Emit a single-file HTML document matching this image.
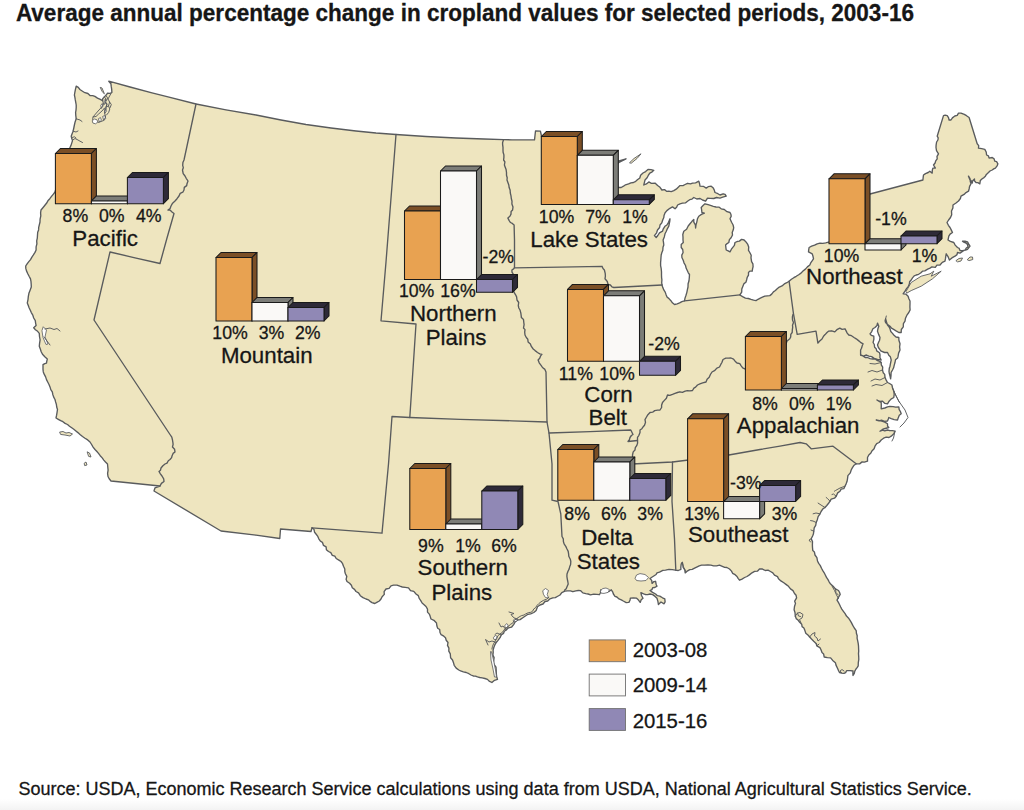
<!DOCTYPE html>
<html lang="en"><head><meta charset="utf-8"><title>Average annual percentage change in cropland values</title>
<style>html,body{margin:0;padding:0;background:#fff}svg{display:block}text{font-family:"Liberation Sans",Arial,Helvetica,sans-serif;fill:#161616;stroke:#161616;stroke-width:0.28px}</style></head><body>
<svg width="1024" height="810" viewBox="0 0 1024 810">
<defs><linearGradient id="bg" x1="0" y1="0" x2="0" y2="1"><stop offset="0" stop-color="#ffffff"/><stop offset="1" stop-color="#f3f3f3"/></linearGradient></defs>
<rect width="1024" height="810" fill="#ffffff"/><rect y="799" width="1024" height="11" fill="url(#bg)"/>
<text transform="translate(15.9,21.0) scale(1,1.07)" font-size="22.53" font-weight="bold">Average annual percentage change in cropland values for selected periods, 2003-16</text>
<g stroke="#595b5d" stroke-width="1.35" stroke-linejoin="round" stroke-linecap="round">
<polygon points="76.2,86.2 78.3,87.4 79.9,89.5 82.5,91.2 84.9,92.7 87.9,93.5 90.0,95.6 92.7,95.6 94.9,96.4 97.5,98.1 100.3,99.4 102.5,100.6 102.7,98.7 104.4,96.9 106.4,94.8 107.5,93.1 110.0,93.3 111.9,92.5 111.7,89.4 111.2,86.2 110.9,83.7 108.8,81.2 130.0,87.0 152.0,92.8 168.0,96.9 196.0,104.0 226.0,109.8 256.0,115.0 281.0,120.0 306.0,124.5 331.0,128.0 356.0,131.0 376.0,133.0 396.0,134.5 426.0,136.5 456.0,138.0 484.0,139.0 503.5,139.7 512.0,139.8 534.5,139.9 535.5,131.0 540.4,131.2 541.5,136.0 556.0,141.0 570.0,148.0 582.0,153.0 590.0,156.0 605.0,158.5 619.0,161.0 626.0,158.8 619.0,162.5 606.0,172.0 596.0,180.0 588.0,186.0 598.0,184.0 606.0,180.0 610.0,186.0 619.0,187.5 621.2,187.5 623.5,186.2 625.5,184.8 628.6,183.9 630.9,182.9 633.5,182.5 635.7,181.3 637.4,179.8 639.8,178.0 640.6,175.3 643.0,173.0 645.6,171.6 648.0,169.5 651.0,169.6 653.8,170.3 652.2,171.8 649.8,173.2 648.5,175.0 647.1,177.8 645.0,180.0 644.3,182.8 643.8,185.0 646.4,183.9 648.8,181.9 651.4,183.3 655.0,183.1 657.6,185.5 660.0,187.3 661.9,190.0 664.5,189.6 666.5,191.3 668.8,191.2 671.2,191.6 673.8,190.6 676.2,189.2 678.0,187.4 680.0,185.6 683.0,185.6 685.1,184.5 687.5,183.3 690.5,183.8 692.5,183.1 695.6,182.8 698.8,181.2 699.6,183.8 700.0,186.2 703.3,186.3 706.2,188.1 708.2,186.7 711.2,186.2 713.3,188.1 714.2,189.9 715.0,192.5 717.9,193.7 720.0,195.0 723.1,193.8 725.1,194.4 726.2,196.2 722.7,197.2 720.0,198.1 716.5,197.5 713.8,198.5 710.3,198.4 707.5,198.1 705.6,201.2 702.5,200.0 700.1,198.5 696.8,199.0 693.8,197.5 692.0,199.1 689.7,199.7 687.5,201.2 685.4,202.9 682.5,203.2 680.0,203.8 677.6,205.0 676.6,207.2 675.0,208.8 672.5,206.9 669.9,208.3 666.9,210.6 665.1,212.8 664.1,215.2 663.8,217.5 662.7,220.0 661.8,222.9 660.0,225.0 659.6,227.5 657.5,230.0 656.6,232.8 654.4,235.6 656.2,237.5 657.8,235.5 659.5,232.9 662.5,231.2 663.3,228.8 664.9,226.3 666.9,225.0 668.5,222.3 670.0,218.8 669.8,221.2 669.3,223.6 668.8,226.2 667.3,228.8 666.3,231.3 665.0,233.8 664.3,236.9 663.1,240.0 663.5,242.4 663.8,245.0 663.0,247.3 662.8,250.2 661.9,252.4 661.2,255.0 661.0,257.3 660.8,260.1 660.6,262.5 660.6,265.7 661.2,268.7 661.5,271.9 661.5,275.0 661.6,277.6 661.9,279.9 661.7,282.7 662.0,285.0 662.8,287.6 663.8,289.9 665.2,292.1 666.0,294.4 667.0,297.0 669.0,298.6 670.9,300.7 672.4,302.8 674.5,304.5 677.2,303.8 679.6,302.9 681.9,301.6 684.5,300.8 685.0,298.1 686.0,295.2 686.8,292.6 687.4,289.7 688.0,287.0 688.1,283.8 689.0,280.7 689.3,277.7 689.5,274.5 688.3,272.8 687.5,271.0 686.2,268.3 685.5,265.5 684.0,262.8 683.2,260.2 681.9,257.5 681.8,255.1 683.1,252.5 682.7,249.5 681.2,247.5 681.2,244.6 683.3,242.6 683.0,240.0 683.0,237.0 682.8,234.5 683.8,231.2 686.6,229.2 688.2,226.0 690.0,223.8 692.0,221.3 693.8,219.4 693.8,222.1 695.4,224.9 695.6,228.0 696.0,224.9 696.8,222.1 697.5,218.6 698.8,216.2 701.4,214.4 704.4,213.1 701.9,212.5 701.6,209.6 701.2,207.5 703.3,205.3 705.0,203.8 708.1,204.7 711.2,205.6 713.3,206.3 716.0,207.0 719.2,207.2 721.2,208.8 724.3,209.5 727.0,211.7 730.0,212.5 730.9,214.3 731.2,216.2 730.0,218.8 731.6,222.2 733.1,225.0 733.7,227.6 733.3,229.8 732.2,232.5 732.5,235.0 731.1,237.7 729.4,239.6 728.8,242.5 727.1,243.6 725.6,245.0 725.9,247.7 726.2,250.0 728.2,250.9 730.0,251.9 731.4,249.2 733.0,247.1 734.4,245.4 735.0,242.5 737.6,241.4 739.4,241.1 741.6,239.4 744.1,240.0 746.0,241.9 747.6,244.1 748.7,247.1 748.5,250.4 749.8,252.5 751.2,255.3 751.0,257.9 751.6,261.6 752.9,263.8 753.1,266.7 752.6,268.7 752.2,271.2 749.8,271.1 748.5,272.5 748.5,275.1 747.2,277.4 746.6,280.0 745.9,282.2 744.0,283.6 742.9,286.2 741.8,289.1 741.7,292.2 739.8,295.0 742.6,296.6 745.4,298.1 748.4,298.5 751.0,299.4 753.6,300.2 756.0,300.6 758.0,299.3 760.3,298.1 762.4,297.2 764.8,296.2 767.4,295.8 769.8,295.6 771.7,294.1 773.4,291.9 775.4,290.5 777.2,288.8 779.3,287.1 782.0,285.9 784.3,283.9 786.8,282.7 789.1,281.2 791.4,279.3 793.8,277.7 796.2,276.3 798.7,274.7 801.0,273.1 803.0,271.0 805.4,269.1 807.4,266.9 809.8,265.0 810.7,262.9 812.1,260.9 813.5,258.8 813.0,256.3 812.2,253.8 810.4,252.9 808.5,251.9 808.7,249.8 809.1,247.5 811.6,246.2 814.6,245.2 817.2,243.8 820.0,243.2 822.8,243.3 825.7,242.8 828.5,242.2 845.0,240.0 855.0,236.0 857.0,225.0 853.0,215.0 862.0,203.0 868.0,195.0 870.0,194.0 922.9,180.0 923.2,177.2 923.5,175.0 925.5,173.6 928.2,172.5 929.8,171.2 932.2,173.1 932.3,170.3 932.9,168.1 935.4,168.1 933.5,165.0 935.1,163.0 935.7,160.9 937.2,158.8 937.0,156.4 938.5,153.8 936.5,150.7 936.0,147.5 936.1,145.2 936.6,142.0 937.9,140.0 938.2,137.8 937.2,136.2 943.5,115.6 945.1,115.2 947.2,115.6 948.5,117.6 949.1,120.0 951.0,120.0 952.4,117.9 954.8,116.0 957.2,115.4 958.5,113.1 961.0,113.1 964.3,114.4 966.5,115.7 969.1,117.5 977.2,143.8 978.7,145.6 978.5,148.1 981.7,148.7 984.8,149.4 986.2,152.0 986.6,155.0 988.4,155.8 989.1,158.1 992.2,157.5 994.1,158.9 994.8,161.2 996.6,161.6 997.9,163.8 997.1,165.9 995.4,168.1 993.7,168.9 992.2,170.0 990.0,171.0 988.5,172.5 986.4,174.4 985.4,176.2 984.0,177.6 982.2,178.8 980.3,180.6 979.8,183.8 977.9,182.7 976.0,182.5 974.4,180.8 974.5,179.0 972.7,180.8 972.2,183.1 971.2,180.8 969.8,179.4 968.5,176.2 970.0,178.6 970.3,181.6 971.0,183.8 969.6,186.4 969.1,189.0 968.5,191.2 966.0,192.6 964.1,194.4 961.0,196.2 960.4,198.5 958.5,201.0 956.0,203.0 953.0,205.0 952.9,208.0 951.5,211.0 951.7,214.7 950.5,217.5 948.6,220.0 947.0,222.5 948.4,225.3 950.0,227.5 951.1,229.6 952.5,232.5 950.1,234.1 948.8,236.2 948.4,238.1 948.0,240.0 950.4,241.4 953.8,242.5 955.2,245.1 957.5,247.5 959.2,248.4 960.0,250.6 962.3,250.6 965.5,250.2 967.5,249.4 968.7,247.9 970.0,246.2 968.6,243.9 967.5,241.9 965.0,241.1 962.5,241.2 963.8,242.2 966.0,243.0 967.5,244.5 968.0,246.9 966.3,248.0 965.0,250.0 962.8,251.2 960.0,253.1 957.5,252.5 957.0,254.6 955.0,256.2 951.9,257.9 949.4,260.0 948.2,256.9 946.2,253.8 945.8,256.2 945.5,258.4 945.0,261.2 942.3,262.4 940.0,265.0 936.9,265.1 935.3,267.4 931.9,266.9 930.0,268.1 927.7,269.1 924.8,270.8 922.5,271.2 920.6,273.0 918.6,274.3 916.2,275.0 914.2,275.9 912.5,277.9 911.2,280.0 909.6,281.8 909.4,283.8 908.2,286.8 906.7,288.4 905.0,291.2 903.1,293.8 906.0,294.2 908.1,296.2 908.8,298.5 910.0,301.0 910.0,303.8 909.9,307.0 910.1,309.9 908.8,312.5 907.1,314.8 905.5,318.2 905.0,321.2 903.4,323.6 903.3,326.8 901.3,329.5 901.2,332.5 898.8,332.5 896.5,331.2 894.5,329.9 891.5,328.2 890.0,326.2 887.3,324.4 885.6,322.5 885.1,320.9 885.6,318.8 886.4,321.6 887.5,325.0 889.2,327.1 890.0,328.8 890.8,331.5 892.5,333.4 893.8,335.0 896.0,337.0 898.8,337.5 898.9,340.3 900.0,343.8 899.6,346.9 900.0,350.0 898.6,353.1 898.1,356.2 897.6,358.1 895.5,359.8 895.0,362.5 894.3,364.9 893.6,367.8 892.5,370.0 891.1,372.5 891.0,375.6 890.6,378.8 890.1,376.4 889.4,373.8 889.0,371.5 889.3,368.3 890.0,366.2 890.5,363.3 891.2,360.0 890.4,356.8 888.8,355.3 887.5,352.5 884.6,352.5 881.2,351.2 879.9,349.6 878.4,347.5 877.5,345.0 878.6,342.2 879.6,340.2 880.0,337.5 878.6,334.4 877.5,331.2 877.9,328.8 878.8,326.2 877.5,323.1 877.0,325.5 875.0,327.5 872.9,328.8 871.6,331.8 870.0,333.8 871.3,335.4 873.8,336.2 873.9,339.2 873.1,342.5 874.3,344.5 874.6,347.3 876.2,348.8 876.7,350.9 879.5,352.7 880.0,355.0 879.9,357.6 881.2,360.0 879.8,359.6 877.5,359.4 874.2,358.4 871.6,356.6 868.8,356.2 866.4,355.0 863.5,356.1 860.6,355.0 863.0,355.9 865.1,357.5 867.5,357.5 870.1,358.6 872.6,359.0 875.5,359.1 877.5,360.6 879.9,361.3 881.2,362.5 881.3,364.9 882.7,367.2 882.5,370.0 883.2,372.7 884.7,374.4 885.0,377.5 886.2,380.1 887.5,382.5 889.6,383.5 891.9,385.0 892.5,387.7 893.8,391.2 894.2,394.3 893.8,397.5 891.0,399.1 889.1,401.2 887.5,403.8 884.9,403.4 882.3,401.1 879.8,401.4 876.9,400.0 879.2,401.3 881.2,402.5 881.3,405.4 881.2,408.8 884.8,408.0 887.5,406.9 889.9,406.4 893.1,406.6 895.7,407.2 898.8,406.9 899.2,409.6 900.3,411.3 901.2,413.8 899.3,415.3 898.4,417.4 897.5,420.0 894.2,419.6 891.2,418.6 888.8,417.5 888.3,419.0 887.5,421.0 884.7,421.3 881.5,420.2 879.1,420.9 876.2,420.0 879.6,420.6 881.7,421.2 884.8,422.1 887.5,423.8 887.6,426.2 888.8,427.5 885.3,428.5 882.8,429.2 880.0,431.2 882.8,430.2 884.7,430.9 887.5,430.0 889.8,430.7 892.4,430.6 895.0,431.2 893.8,433.7 891.2,436.2 889.0,437.5 886.2,437.2 883.6,438.2 881.2,440.0 879.1,442.5 876.7,443.7 875.0,446.2 874.1,448.8 871.9,451.0 870.9,453.0 868.8,455.0 867.5,457.5 867.5,461.2 864.4,462.1 862.1,461.9 859.6,463.9 856.2,463.8 854.1,465.2 852.3,467.9 851.2,470.0 850.3,472.9 847.9,475.6 847.5,478.8 847.0,481.6 846.2,483.6 845.0,486.2 843.8,488.7 841.1,489.1 840.0,491.2 837.7,492.9 836.2,496.2 834.5,498.2 831.2,499.1 830.0,501.2 828.6,503.3 826.8,505.5 825.0,507.5 822.9,508.9 821.1,511.5 820.0,513.8 818.1,516.7 817.4,519.4 816.2,522.5 815.7,525.4 814.2,527.8 813.8,531.2 813.4,534.1 812.6,536.0 811.2,538.8 812.5,541.6 812.4,545.0 812.5,547.5 812.8,550.6 814.4,552.0 815.0,555.0 816.9,557.7 817.5,561.0 818.7,563.4 820.3,565.6 821.5,568.2 822.8,570.6 824.2,572.8 825.3,575.0 826.5,577.4 828.0,579.6 829.1,581.8 830.6,584.1 833.1,586.3 835.4,588.9 838.5,590.5 839.6,592.5 840.2,594.5 838.6,597.2 837.0,600.1 838.4,602.4 839.5,604.5 840.7,607.0 841.8,609.1 843.4,611.3 845.1,613.6 846.5,616.1 848.4,617.9 849.9,620.1 851.4,622.6 852.8,625.4 854.3,628.0 856.2,630.6 856.4,633.2 857.2,635.8 857.1,638.2 857.7,640.9 858.2,643.4 858.5,645.9 858.6,648.4 858.7,651.1 858.5,653.6 858.7,656.2 858.8,659.4 858.3,662.6 858.2,665.9 857.3,667.4 856.0,669.0 854.8,671.1 854.3,673.3 853.0,675.5 852.9,673.2 853.0,671.0 850.2,670.6 846.6,670.7 845.6,672.6 844.0,673.4 841.8,673.1 839.5,672.5 838.6,670.7 837.5,668.3 836.0,665.1 835.4,662.7 832.7,660.4 830.6,657.8 827.4,657.7 824.2,657.0 823.6,653.9 822.0,652.5 821.0,649.8 819.9,647.6 816.8,645.8 816.1,643.4 813.7,641.2 811.5,639.0 809.7,637.0 808.2,635.2 805.8,633.2 804.9,630.6 803.9,628.0 802.1,626.6 801.7,624.2 799.7,622.3 798.0,620.0 796.2,618.6 795.3,616.1 795.0,612.5 794.1,609.8 794.5,606.5 795.5,603.4 794.7,601.2 796.6,597.8 796.1,595.3 794.5,593.5 793.0,590.6 790.5,588.9 788.5,586.3 786.3,584.6 783.8,582.7 780.9,580.9 778.5,578.8 777.5,576.6 774.5,575.2 772.8,572.8 770.5,571.5 768.0,570.2 765.3,570.5 762.0,568.9 759.5,569.0 757.4,571.2 754.6,571.4 752.0,572.8 749.4,574.9 747.0,576.5 744.6,577.5 742.0,579.1 739.5,580.2 738.1,578.3 737.0,576.5 735.1,574.7 732.6,573.3 731.5,571.1 729.5,569.0 726.9,567.5 724.7,567.3 722.3,566.3 719.5,565.2 716.6,565.9 713.6,565.9 710.9,565.2 707.9,565.0 704.5,565.2 701.6,565.1 699.2,565.8 697.2,566.8 694.6,568.1 692.2,569.4 689.8,569.7 686.8,571.4 685.2,572.9 684.8,569.9 683.1,567.3 682.9,564.6 682.3,562.3 681.2,564.2 680.8,567.3 680.9,569.4 678.3,570.5 675.3,570.1 672.3,569.6 669.0,569.4 665.5,570.1 662.8,570.4 659.5,572.1 657.0,572.9 656.1,574.5 654.2,575.7 652.2,577.0 650.0,578.5 651.7,580.4 652.1,583.4 653.9,581.6 655.6,581.3 656.1,584.2 657.0,586.2 654.8,587.5 652.8,587.6 651.9,589.6 650.0,590.5 652.6,592.4 655.6,594.0 657.4,595.7 659.8,596.1 662.5,597.8 664.8,598.9 665.1,601.9 664.1,603.8 661.0,602.0 658.4,604.5 657.9,601.4 657.0,598.2 655.1,596.4 652.7,594.6 650.0,594.0 647.7,594.6 645.8,594.7 643.6,593.9 640.9,592.6 641.4,595.2 643.0,598.2 641.2,599.8 640.2,602.4 638.3,599.8 636.6,598.2 633.3,598.0 630.3,598.2 630.1,600.0 628.9,602.4 626.2,602.6 623.3,601.0 621.3,599.8 619.0,598.9 616.9,597.0 615.0,596.3 613.4,594.0 612.8,592.2 611.3,589.8 609.0,591.5 606.0,591.5 603.3,591.4 600.8,589.8 600.6,592.5 599.4,594.7 596.9,594.4 593.8,594.1 590.5,594.8 588.1,594.0 585.8,593.7 582.8,592.9 580.7,590.7 578.3,590.5 575.8,590.8 572.9,591.7 570.4,590.8 567.6,590.8 564.9,591.2 561.8,592.6 560.0,595.0 557.3,596.5 555.3,597.7 552.8,597.9 550.0,598.8 547.7,601.0 545.0,601.5 543.0,604.0 540.0,605.0 537.5,606.7 536.2,610.4 533.8,612.5 530.7,613.8 528.0,614.3 525.0,616.2 522.8,617.7 520.1,619.6 517.5,620.0 515.1,622.0 513.8,624.4 511.5,627.2 508.5,627.8 506.2,630.0 504.3,631.3 503.5,633.4 501.2,635.0 500.2,637.4 498.0,640.4 496.2,642.5 494.7,645.2 493.9,647.2 493.1,650.0 493.2,652.4 492.9,655.1 494.1,657.6 493.8,660.0 493.5,662.4 494.2,664.7 496.0,667.2 496.2,670.0 496.3,673.6 496.6,676.2 497.5,679.4 494.5,680.3 491.9,682.5 489.1,681.1 487.5,679.4 484.9,678.5 482.2,677.8 479.7,677.5 477.5,676.9 475.4,676.1 473.8,676.2 471.0,675.0 468.9,673.7 466.2,672.5 463.4,671.8 460.6,670.8 458.8,670.0 456.2,668.1 454.2,665.3 453.6,663.1 452.5,660.0 450.6,657.8 450.3,653.9 448.8,651.2 448.9,648.1 447.5,645.4 448.0,642.5 446.2,640.3 445.5,637.7 443.8,636.2 441.1,634.7 440.0,632.5 439.7,629.5 437.7,628.2 436.9,626.0 436.5,623.0 433.9,620.3 431.0,619.0 430.1,616.1 429.3,614.1 427.5,612.1 427.5,609.1 426.0,606.5 424.1,604.7 422.1,603.0 420.6,600.3 419.2,598.4 418.3,595.6 416.0,594.0 413.8,591.4 410.5,590.6 408.5,587.8 405.2,587.4 402.3,587.0 399.8,586.2 397.0,585.1 393.5,585.2 391.0,585.8 389.1,588.4 386.0,589.0 384.1,591.7 384.3,594.4 382.1,596.7 381.0,599.0 379.3,601.0 376.8,602.4 374.8,603.5 372.0,602.6 370.5,601.7 368.4,599.8 366.0,599.0 363.0,597.6 360.3,595.7 358.5,592.9 356.0,591.5 354.5,589.4 352.3,587.7 351.4,585.3 349.6,583.3 347.0,581.5 346.1,579.3 346.8,576.4 345.4,573.7 344.8,571.6 344.8,569.0 343.5,566.3 342.6,563.7 341.0,561.5 338.9,560.1 336.2,558.5 334.8,556.1 332.3,555.3 330.8,552.7 328.5,551.5 326.4,549.7 326.1,546.9 323.5,545.4 322.4,542.3 320.4,541.2 318.8,538.8 317.8,536.4 316.0,534.0 314.6,532.3 313.9,529.2 312.0,527.8 311.0,531.5 280.5,529.0 279.8,538.5 256.0,535.2 221.0,531.0 154.0,491.0 155.0,487.8 160.0,486.0 111.0,481.0 109.2,478.8 108.0,476.5 107.6,473.4 108.1,470.1 107.8,467.1 107.5,464.0 105.5,462.0 103.8,460.1 102.2,457.9 100.2,455.7 98.7,453.6 96.9,451.5 95.0,449.5 93.1,447.1 91.6,444.5 90.0,442.0 87.7,439.9 85.0,438.2 82.5,436.5 80.0,434.5 77.9,432.6 75.9,431.0 73.8,429.3 71.7,427.8 69.5,426.2 67.5,424.5 65.1,423.4 62.9,421.7 60.7,420.6 58.3,419.3 56.0,418.0 56.6,415.2 57.1,412.2 57.5,409.5 56.7,407.0 56.4,404.5 55.6,401.9 55.0,399.5 53.7,397.1 52.8,394.5 52.3,391.9 50.8,389.6 50.0,386.9 49.0,384.5 47.7,382.0 46.5,379.6 45.6,376.9 44.3,374.4 43.3,371.9 43.0,369.4 43.0,367.0 43.0,364.7 44.8,363.6 46.5,363.1 46.8,361.2 47.3,359.1 44.8,356.8 42.5,354.3 41.2,351.7 40.3,348.9 39.3,346.2 39.6,343.1 40.1,339.8 39.5,336.5 39.3,333.4 37.6,331.3 35.4,329.7 33.7,327.8 36.1,325.4 35.6,323.1 35.3,320.6 33.7,318.0 32.8,315.1 31.3,312.6 30.3,310.2 29.1,307.7 28.2,305.3 27.3,302.9 28.0,299.6 28.3,296.6 28.9,293.3 30.1,290.2 31.3,286.9 31.2,284.3 31.0,281.6 30.5,278.9 29.1,276.3 27.8,273.7 26.5,270.9 25.8,268.4 25.7,266.0 27.1,263.8 28.8,261.7 30.5,259.6 31.9,257.1 33.4,254.9 35.0,252.4 36.1,250.0 36.1,246.9 36.9,243.9 36.7,240.9 37.3,238.2 37.5,235.0 37.7,232.2 38.6,229.9 38.7,227.3 39.4,224.5 40.0,222.0 40.1,219.1 40.8,215.9 40.6,212.9 41.0,210.0 42.9,207.7 44.7,205.5 46.5,203.3 47.9,200.8 49.8,198.7 51.5,196.4 53.2,194.3 55.0,192.0 55.7,189.6 56.7,187.1 57.6,184.6 58.5,182.0 59.4,179.4 60.0,176.8 61.1,174.5 62.0,172.0 63.0,169.2 63.7,166.6 64.9,164.1 65.7,161.1 66.2,158.3 67.5,155.6 68.2,152.8 69.1,150.2 70.0,147.5 71.0,145.4 71.8,142.9 72.5,140.6 71.7,138.3 71.2,136.2 72.1,133.7 73.1,131.2 73.8,128.0 74.4,125.0 75.1,121.9 76.2,118.8 75.8,115.6 75.6,112.5 76.0,110.1 76.2,107.5 76.2,105.0 75.8,102.6 75.3,99.9 74.9,97.4 74.4,95.0 74.9,92.1 75.5,89.1" fill="#eee5bf"/>
<polygon points="600.5,591.0 602.5,588.6 606.0,588.0 609.5,589.6 608.0,592.4 604.0,593.4 601.5,593.2" fill="#ffffff" stroke-width="0.8"/>
<polygon points="543.0,590.5 545.5,588.5 548.5,590.5 547.2,594.5 548.6,597.8 545.5,597.6 543.6,594.5" fill="#ffffff" stroke-width="0.8"/>
<polygon points="513.5,620.0 515.5,618.3 518.0,619.0 516.5,621.3 514.2,621.8" fill="#ffffff" stroke-width="0.8"/>
<polygon points="505.0,625.5 506.5,623.6 508.3,625.0 507.0,627.6 505.5,627.6" fill="#ffffff" stroke-width="0.8"/>
<polygon points="493.6,637.5 495.2,635.5 497.6,636.5 496.5,639.4 494.5,639.6" fill="#ffffff" stroke-width="0.8"/>
<polygon points="635.2,578.0 636.5,575.0 640.0,573.6 645.0,574.5 648.6,577.5 646.0,580.5 641.0,581.0 637.0,580.6" fill="#ffffff" stroke-width="0.8"/>
<polygon points="491.5,652.0 493.5,660.0 495.5,670.0 496.5,677.0 494.5,677.0 492.8,668.0 491.0,660.0 490.5,652.0" fill="#ffffff" stroke-width="0.8"/>
<polygon points="43.5,327.0 46.5,330.0 45.0,337.0 48.0,344.0 46.0,344.5 43.0,337.5 42.0,331.0" fill="#ffffff" stroke-width="0.8"/>
<polygon points="92.5,120.5 94.5,119.0 97.0,119.8 97.8,122.0 95.5,123.8 93.3,123.2" fill="#ffffff" stroke-width="0.8"/>
<polygon points="98.8,118.5 100.5,117.6 101.4,120.3 99.6,121.8" fill="#ffffff" stroke-width="0.8"/>
<polygon points="103.0,116.3 104.8,115.6 105.8,118.5 104.0,120.2" fill="#ffffff" stroke-width="0.8"/>
<polygon points="104.3,100.2 105.6,99.0 106.1,103.0 104.8,104.2" fill="#ffffff" stroke-width="0.8"/>
<polygon points="101.0,105.0 102.3,103.4 102.9,106.2 101.6,108.2" fill="#ffffff" stroke-width="0.8"/>
<polygon points="104.6,108.5 106.0,107.6 106.3,111.5 105.0,113.0" fill="#ffffff" stroke-width="0.8"/>
<polygon points="906.2,291.2 911.2,282.5 921.2,276.2 930.0,273.8 933.8,271.2 931.2,276.2 941.2,271.2 932.5,278.8 921.2,286.2 911.2,290.6 907.0,293.0" fill="#eee5bf" stroke-width="0.9"/>
<polygon points="956.2,260.5 959.0,258.5 962.5,258.0 961.0,261.0 958.0,261.8" fill="#eee5bf" stroke-width="0.9"/>
<polygon points="967.5,259.4 970.0,257.0 972.5,257.0 972.8,259.5 969.5,260.5" fill="#eee5bf" stroke-width="0.9"/>
<polygon points="629.8,162.5 634.0,158.5 641.0,153.8 637.0,158.5 631.5,163.0" fill="#eee5bf" stroke-width="0.9"/>
<polygon points="100.6,87.5 102.0,88.0 104.4,93.8 102.5,92.0" fill="#eee5bf" stroke-width="0.9"/>
<polygon points="60.0,432.0 63.0,431.5 66.0,433.0 69.0,432.5 72.5,434.0 70.0,436.0 65.0,435.0 61.0,434.5" fill="#eee5bf" stroke-width="0.9"/>
<polygon points="87.5,452.0 89.5,453.0 91.0,457.0 89.0,456.5" fill="#eee5bf" stroke-width="0.9"/>
<polygon points="84.5,463.0 86.0,462.0 87.0,465.0 85.0,465.5" fill="#eee5bf" stroke-width="0.9"/>
<polyline points="196.0,104.0 193.0,118.0 190.0,132.0 187.0,146.0 184.0,160.0 182.9,162.6 182.7,165.3 183.3,167.7 182.5,170.0 183.2,173.6 185.0,176.0 186.2,178.3 188.0,181.0 187.0,183.7 186.7,185.6 184.3,187.4 184.0,190.0 182.8,192.2 180.2,193.4 179.0,196.0 177.0,198.7 175.0,201.0 172.6,203.2 171.0,206.0 170.1,208.5 168.0,210.0 170.0,210.1 172.0,212.0 174.0,213.5 167.0,238.0 160.0,263.5 135.0,257.8 110.0,252.0 94.0,320.0 170.0,434.5 171.8,437.2 172.5,440.0 172.9,442.5 173.1,444.3 172.5,447.0 174.6,449.3 175.0,452.0 173.1,453.4 172.0,456.0 171.6,457.6 170.0,459.5 168.3,460.7 167.0,463.1 165.0,464.0 162.9,465.8 161.0,468.0 160.5,470.2 159.0,471.5 160.4,473.8 162.0,476.0 163.7,478.9 164.0,481.5 161.4,483.4 160.0,486.0" fill="none"/>
<polyline points="396.0,134.5 386.0,262.0 381.0,320.8 416.0,324.0 409.8,417.5 392.0,416.5 388.5,464.0 382.0,533.2 312.0,527.8" fill="none"/>
<polyline points="409.8,417.5 460.0,419.3 512.0,420.8 547.0,422.0" fill="none"/>
<polyline points="503.5,139.7 502.6,142.6 502.6,144.4 503.0,147.3 503.0,150.0 503.1,152.2 503.9,154.9 503.9,157.4 503.6,160.0 504.9,161.9 504.4,165.0 505.4,167.7 506.1,169.6 506.5,172.5 506.5,175.2 507.2,177.7 507.0,180.0 507.9,182.5 508.8,185.0 509.2,187.8 510.1,189.9 510.3,193.0 511.0,195.9 511.3,198.5 512.0,201.2 511.9,203.9 513.0,206.9 512.6,210.0 511.1,211.5 511.0,214.1 509.9,216.3 507.9,218.1 509.2,220.6 510.4,222.5 512.3,223.4 514.1,225.0 514.5,240.0 514.5,267.5 513.6,268.9 511.9,270.0 512.0,272.1 513.1,273.8 513.4,275.8 512.3,278.6 512.1,280.4 512.5,283.0 512.9,286.4 513.3,289.4 513.8,291.9 515.6,294.8 516.6,296.9 517.0,300.0 518.7,302.5 518.3,305.5 518.8,308.0 520.0,310.0 520.8,312.9 521.1,315.0 521.4,317.6 523.5,319.5 523.8,322.5 524.1,324.7 523.5,328.0 525.0,329.6 524.7,332.2 525.0,335.0 526.3,337.5 527.8,339.2 528.1,342.0 530.4,344.1 531.2,346.2 533.2,349.0 535.1,350.6 537.5,352.5 539.8,353.9 541.9,354.4 540.6,355.9 539.7,358.3 538.1,360.0 539.2,362.8 541.1,365.3 542.5,367.5 544.9,369.4 546.0,372.0 547.0,422.0 549.0,433.0 552.0,464.0 552.0,500.2 558.0,501.5 560.8,514.0 562.0,536.5 563.3,538.9 563.4,541.5 564.1,543.9 565.9,546.6 567.0,549.0 568.2,551.4 568.6,553.9 568.8,556.2 570.3,559.2 570.8,561.5 570.6,564.5 569.7,566.8 569.1,569.1 568.0,571.2 567.0,574.0 566.9,576.5 567.3,579.1 567.8,581.5 568.2,584.0 567.1,586.6 566.2,588.8 564.5,590.2" fill="none"/>
<polyline points="514.4,267.8 560.0,267.2 602.0,266.3 603.0,268.6 604.4,270.0 605.2,273.3 605.4,276.0 605.0,278.8 607.3,281.5 608.0,284.4 610.4,285.0 611.9,286.9 613.8,287.5 662.0,285.0" fill="none"/>
<polyline points="684.5,300.8 739.8,294.8" fill="none"/>
<polyline points="549.0,433.0 590.0,431.6 630.8,430.0 633.0,434.5 631.4,435.5 630.0,437.5 629.4,439.8 628.0,441.5 637.5,440.5" fill="none"/>
<polyline points="632.0,464.0 631.8,461.8 631.2,460.0 632.6,458.0 632.5,455.0 633.2,451.9 635.0,450.0 635.3,447.7 636.7,445.7 637.6,443.1 637.5,440.5 637.5,437.3 638.8,435.6 640.0,432.5 640.0,430.0 641.9,428.7 643.0,427.0 644.5,425.3 645.5,422.4 645.0,419.6 646.2,417.5 647.9,414.7 650.0,412.5 652.6,412.2 654.7,410.6 657.6,410.2 660.0,410.0 661.6,407.5 661.6,405.3 662.5,402.5 664.4,400.4 666.4,398.2 667.5,395.0 669.8,395.3 672.5,394.3 675.0,393.3 677.5,392.5 679.9,391.8 682.4,392.4 685.2,391.2 687.3,390.6 690.0,390.9 692.5,390.5 693.9,388.1 695.6,387.1 697.5,385.0 699.9,383.9 702.7,382.9 706.0,382.0 707.1,379.2 709.2,377.3 710.4,374.5 712.0,372.0 714.9,370.3 716.9,368.1 719.5,367.0 720.9,364.2 721.9,362.5 723.0,359.5 725.8,358.2 728.4,358.1 731.0,358.0 733.5,359.1 735.1,361.2 737.0,363.0 739.8,363.7 741.0,365.6 742.7,367.8 744.8,368.8 747.1,370.5 750.0,372.0" fill="none"/>
<polyline points="786.0,343.8 787.1,341.1 789.8,338.8 790.7,337.0 790.8,334.4 792.2,332.5 792.3,330.2 792.7,327.2 792.5,325.2 793.5,322.5 792.5,320.1 792.4,316.8 793.0,314.5" fill="none"/>
<polyline points="789.1,281.2 791.6,300.0 793.5,313.8 797.2,334.4 816.0,331.2 817.9,343.1 819.7,341.0 822.0,339.0 823.5,336.2 825.1,334.6 827.0,332.5 828.5,331.2 831.7,330.8 834.8,331.9 836.9,329.7 839.8,328.1 842.1,329.3 845.0,328.8 846.1,330.9 847.2,333.1 848.8,335.0 851.5,335.7 854.0,337.5 856.2,338.8 858.2,340.4 860.5,342.3 863.1,343.8 862.3,345.6 861.5,348.2 860.6,350.0 860.6,352.7 860.6,355.0" fill="none"/>
<polyline points="632.0,464.0 672.5,462.0 728.8,455.0 760.0,449.5 780.0,446.2 800.0,442.5 806.2,443.8 811.2,448.8 833.0,446.2 856.2,463.8" fill="none"/>
<polyline points="672.5,462.0 672.0,501.5 674.5,539.0 675.8,570.2" fill="none"/>
<polyline points="548.8,597.4 546.8,599.1 543.8,600.2 541.0,601.8 538.6,603.8 537.0,605.4 535.5,607.8 533.8,608.9 532.6,611.2 530.9,612.3 528.5,612.6 525.7,613.9 524.0,615.0 521.3,615.7 519.0,617.0 516.4,618.8 514.3,620.5 512.6,623.2 510.8,624.1 508.5,626.2 507.4,627.6 505.0,628.8 503.7,630.3 502.1,632.7 500.0,633.8 497.5,636.2 496.3,638.6 495.0,641.4 493.5,643.9 492.5,646.3 491.9,649.0" fill="none" stroke-width="0.95"/>
<polyline points="892.5,388.0 896.0,396.0 899.5,402.5" fill="none" stroke-width="0.95"/>
<polyline points="795.3,616.1 797.5,613.0 800.0,612.5 803.0,614.5 802.0,618.0 799.5,619.5 801.0,623.0" fill="none" stroke-width="0.95"/>
<polyline points="797.5,613.0 798.5,616.0 800.5,616.5" fill="none" stroke-width="0.95"/>
<polyline points="809.7,637.0 812.0,634.0 815.0,632.5 814.5,636.0 817.0,638.0 818.0,641.0 820.5,639.0" fill="none" stroke-width="0.95"/>
<polyline points="816.1,643.4 817.5,645.5 819.0,644.0" fill="none" stroke-width="0.95"/>
<polyline points="841.8,673.1 840.0,671.0 842.0,669.5 844.0,671.0" fill="none" stroke-width="0.95"/>
<polyline points="832.0,586.0 834.5,590.5 836.5,595.0 838.5,598.5" fill="none" stroke-width="0.95"/>
<polyline points="835.4,588.9 836.0,592.5 838.3,595.0" fill="none" stroke-width="0.95"/>
<polyline points="845.0,486.2 840.0,488.0 835.5,490.5 834.4,491.2" fill="none" stroke-width="0.95"/>
<polyline points="836.2,496.2 833.5,494.0 832.0,494.5" fill="none" stroke-width="0.95"/>
<polyline points="830.0,501.2 827.5,498.5 826.2,497.5" fill="none" stroke-width="0.95"/>
<polyline points="825.0,507.5 821.0,505.0 818.1,503.1" fill="none" stroke-width="0.95"/>
<polyline points="820.0,513.8 816.0,513.0 813.1,513.8" fill="none" stroke-width="0.95"/>
<polyline points="816.2,522.5 813.0,521.0 810.6,520.6" fill="none" stroke-width="0.95"/>
<polyline points="813.8,531.2 811.0,530.0" fill="none" stroke-width="0.95"/>
<polyline points="811.2,538.8 809.0,540.0 810.5,542.0" fill="none" stroke-width="0.95"/>
<polyline points="72.5,140.2 75.0,138.5 78.0,140.0 80.0,141.2 82.5,142.5" fill="none" stroke-width="0.95"/>
<polyline points="72.0,137.5 74.5,136.8 76.0,138.0" fill="none" stroke-width="0.95"/>
<polyline points="102.5,100.6 103.6,104.0 102.5,106.2 99.0,110.0 95.5,114.0 93.1,116.9 92.6,119.5" fill="none" stroke-width="0.95"/>
<polyline points="93.1,116.9 96.0,116.5 98.8,113.8 102.0,111.0 104.5,108.0" fill="none" stroke-width="0.95"/>
<polyline points="104.4,96.9 106.0,99.0 105.0,102.0 107.0,104.0 106.0,107.0 108.5,106.0 109.6,102.0 108.0,99.0 109.6,96.0 111.0,93.5" fill="none" stroke-width="0.95"/>
<polyline points="107.0,104.0 105.6,109.0 104.6,113.0 105.6,117.0 103.6,120.5 101.0,121.5 98.0,122.5" fill="none" stroke-width="0.95"/>
<polyline points="108.5,106.0 109.8,109.0 108.6,112.5 106.5,115.0" fill="none" stroke-width="0.95"/>
<polyline points="109.6,102.0 111.3,104.5 110.2,107.5" fill="none" stroke-width="0.95"/>
<polyline points="106.3,96.0 107.6,98.0 106.6,100.5" fill="none" stroke-width="0.95"/>
<polyline points="893.8,391.2 898.8,401.2 905.0,410.0 908.0,417.5 904.0,423.0 900.0,427.0" fill="none" stroke-width="0.95"/>
<polyline points="895.0,431.2 893.5,438.0 892.0,441.0" fill="none" stroke-width="0.95"/>
<polyline points="881.2,362.5 875.0,364.0 870.0,363.5" fill="none" stroke-width="0.95"/>
<polyline points="882.5,370.0 877.0,372.0 872.0,370.5 868.0,372.0" fill="none" stroke-width="0.95"/>
<polyline points="885.0,377.5 880.0,380.0 875.0,379.0 871.0,381.0" fill="none" stroke-width="0.95"/>
<polyline points="887.5,382.5 882.0,385.5 876.0,384.5 872.0,386.0" fill="none" stroke-width="0.95"/>
<polyline points="517.5,620.0 513.0,617.0 511.0,614.5 514.0,613.5 509.0,612.0" fill="none" stroke-width="0.95"/>
<polyline points="506.2,630.0 503.0,626.0 501.0,627.0 499.0,623.0" fill="none" stroke-width="0.95"/>
<polyline points="496.2,642.5 492.0,641.0 489.0,642.0 485.5,639.5 488.0,645.0" fill="none" stroke-width="0.95"/>
<polyline points="501.2,635.0 497.0,633.0 495.0,634.5" fill="none" stroke-width="0.95"/>
<polyline points="45.0,329.0 50.0,328.0 54.0,329.5 57.0,328.5 60.0,331.0" fill="none" stroke-width="0.95"/>
<polyline points="44.0,337.0 47.0,341.0 50.0,345.0" fill="none" stroke-width="0.95"/>
<polyline points="76.2,118.8 80.0,120.0 82.0,121.5" fill="none" stroke-width="0.95"/>
<polyline points="73.1,131.2 76.0,132.0 78.0,131.0" fill="none" stroke-width="0.95"/>
<polyline points="885.6,318.8 886.3,316.0" fill="none" stroke-width="0.95"/>
<polyline points="682.0,562.8 683.5,567.0 685.8,571.5" fill="none" stroke-width="0.95"/>
</g>
<g stroke="#1a1a1a" stroke-width="1.05" stroke-linejoin="round"><polygon points="55.4,153.5 60.4,148.5 96.4,148.5 91.4,153.5" fill="#7b4f26"/><polygon points="91.4,153.5 96.4,148.5 96.4,198.7 91.4,203.7" fill="#7b4f26"/><rect x="55.4" y="153.5" width="36.0" height="50.2" fill="#e8a251"/><polygon points="91.4,200.9 96.4,195.9 132.4,195.9 127.4,200.9" fill="#7c7d78"/><polygon points="127.4,200.9 132.4,195.9 132.4,198.7 127.4,203.7" fill="#7c7d78"/><rect x="91.4" y="200.9" width="36.0" height="2.8" fill="#faf9f7"/><polygon points="127.4,177.5 132.4,172.5 168.4,172.5 163.4,177.5" fill="#2e2a38"/><polygon points="163.4,177.5 168.4,172.5 168.4,198.7 163.4,203.7" fill="#2e2a38"/><rect x="127.4" y="177.5" width="36.0" height="26.2" fill="#9088b5"/></g>
<g stroke="#1a1a1a" stroke-width="1.05" stroke-linejoin="round"><polygon points="216.0,257.5 221.0,252.5 257.0,252.5 252.0,257.5" fill="#7b4f26"/><polygon points="252.0,257.5 257.0,252.5 257.0,316.0 252.0,321.0" fill="#7b4f26"/><rect x="216.0" y="257.5" width="36.0" height="63.5" fill="#e8a251"/><polygon points="252.0,302.5 257.0,297.5 293.0,297.5 288.0,302.5" fill="#7c7d78"/><polygon points="288.0,302.5 293.0,297.5 293.0,316.0 288.0,321.0" fill="#7c7d78"/><rect x="252.0" y="302.5" width="36.0" height="18.5" fill="#faf9f7"/><polygon points="288.0,307.5 293.0,302.5 329.0,302.5 324.0,307.5" fill="#2e2a38"/><polygon points="324.0,307.5 329.0,302.5 329.0,316.0 324.0,321.0" fill="#2e2a38"/><rect x="288.0" y="307.5" width="36.0" height="13.5" fill="#9088b5"/></g>
<g stroke="#1a1a1a" stroke-width="1.05" stroke-linejoin="round"><polygon points="476.5,279.5 481.5,274.5 517.5,274.5 512.5,279.5" fill="#2e2a38"/><polygon points="512.5,279.5 517.5,274.5 517.5,287.3 512.5,292.3" fill="#2e2a38"/><rect x="476.5" y="279.5" width="36.0" height="12.8" fill="#9088b5"/><polygon points="404.5,211.0 409.5,206.0 445.5,206.0 440.5,211.0" fill="#7b4f26"/><polygon points="440.5,211.0 445.5,206.0 445.5,274.5 440.5,279.5" fill="#7b4f26"/><rect x="404.5" y="211.0" width="36.0" height="68.5" fill="#e8a251"/><polygon points="440.5,171.0 445.5,166.0 481.5,166.0 476.5,171.0" fill="#7c7d78"/><polygon points="476.5,171.0 481.5,166.0 481.5,274.5 476.5,279.5" fill="#7c7d78"/><rect x="440.5" y="171.0" width="36.0" height="108.5" fill="#faf9f7"/></g>
<g stroke="#1a1a1a" stroke-width="1.05" stroke-linejoin="round"><polygon points="541.3,136.5 546.3,131.5 582.3,131.5 577.3,136.5" fill="#7b4f26"/><polygon points="577.3,136.5 582.3,131.5 582.3,199.4 577.3,204.4" fill="#7b4f26"/><rect x="541.3" y="136.5" width="36.0" height="67.9" fill="#e8a251"/><polygon points="577.3,155.3 582.3,150.3 618.3,150.3 613.3,155.3" fill="#7c7d78"/><polygon points="613.3,155.3 618.3,150.3 618.3,199.4 613.3,204.4" fill="#7c7d78"/><rect x="577.3" y="155.3" width="36.0" height="49.1" fill="#faf9f7"/><polygon points="613.3,199.8 618.3,194.8 654.3,194.8 649.3,199.8" fill="#2e2a38"/><polygon points="649.3,199.8 654.3,194.8 654.3,199.4 649.3,204.4" fill="#2e2a38"/><rect x="613.3" y="199.8" width="36.0" height="4.6" fill="#9088b5"/></g>
<g stroke="#1a1a1a" stroke-width="1.05" stroke-linejoin="round"><polygon points="865.0,243.7 870.0,238.7 906.0,238.7 901.0,243.7" fill="#7c7d78"/><polygon points="901.0,243.7 906.0,238.7 906.0,245.0 901.0,250.0" fill="#7c7d78"/><rect x="865.0" y="243.7" width="36.0" height="6.3" fill="#faf9f7"/><polygon points="829.0,178.8 834.0,173.8 870.0,173.8 865.0,178.8" fill="#7b4f26"/><polygon points="865.0,178.8 870.0,173.8 870.0,238.7 865.0,243.7" fill="#7b4f26"/><rect x="829.0" y="178.8" width="36.0" height="64.9" fill="#e8a251"/><polygon points="901.0,236.0 906.0,231.0 942.0,231.0 937.0,236.0" fill="#2e2a38"/><polygon points="937.0,236.0 942.0,231.0 942.0,238.7 937.0,243.7" fill="#2e2a38"/><rect x="901.0" y="236.0" width="36.0" height="7.7" fill="#9088b5"/></g>
<g stroke="#1a1a1a" stroke-width="1.05" stroke-linejoin="round"><polygon points="639.5,361.3 644.5,356.3 680.5,356.3 675.5,361.3" fill="#2e2a38"/><polygon points="675.5,361.3 680.5,356.3 680.5,370.3 675.5,375.3" fill="#2e2a38"/><rect x="639.5" y="361.3" width="36.0" height="14.0" fill="#9088b5"/><polygon points="567.5,289.4 572.5,284.4 608.5,284.4 603.5,289.4" fill="#7b4f26"/><polygon points="603.5,289.4 608.5,284.4 608.5,356.3 603.5,361.3" fill="#7b4f26"/><rect x="567.5" y="289.4" width="36.0" height="71.9" fill="#e8a251"/><polygon points="603.5,295.8 608.5,290.8 644.5,290.8 639.5,295.8" fill="#7c7d78"/><polygon points="639.5,295.8 644.5,290.8 644.5,356.3 639.5,361.3" fill="#7c7d78"/><rect x="603.5" y="295.8" width="36.0" height="65.5" fill="#faf9f7"/></g>
<g stroke="#1a1a1a" stroke-width="1.05" stroke-linejoin="round"><polygon points="745.4,336.5 750.4,331.5 786.4,331.5 781.4,336.5" fill="#7b4f26"/><polygon points="781.4,336.5 786.4,331.5 786.4,385.0 781.4,390.0" fill="#7b4f26"/><rect x="745.4" y="336.5" width="36.0" height="53.5" fill="#e8a251"/><polygon points="781.4,388.5 786.4,383.5 822.4,383.5 817.4,388.5" fill="#7c7d78"/><polygon points="817.4,388.5 822.4,383.5 822.4,385.0 817.4,390.0" fill="#7c7d78"/><rect x="781.4" y="388.5" width="36.0" height="1.5" fill="#faf9f7"/><polygon points="817.4,385.0 822.4,380.0 858.4,380.0 853.4,385.0" fill="#2e2a38"/><polygon points="853.4,385.0 858.4,380.0 858.4,385.0 853.4,390.0" fill="#2e2a38"/><rect x="817.4" y="385.0" width="36.0" height="5.0" fill="#9088b5"/></g>
<g stroke="#1a1a1a" stroke-width="1.05" stroke-linejoin="round"><polygon points="723.6,501.5 728.6,496.5 764.6,496.5 759.6,501.5" fill="#7c7d78"/><polygon points="759.6,501.5 764.6,496.5 764.6,513.8 759.6,518.8" fill="#7c7d78"/><rect x="723.6" y="501.5" width="36.0" height="17.3" fill="#faf9f7"/><polygon points="687.6,418.8 692.6,413.8 728.6,413.8 723.6,418.8" fill="#7b4f26"/><polygon points="723.6,418.8 728.6,413.8 728.6,496.5 723.6,501.5" fill="#7b4f26"/><rect x="687.6" y="418.8" width="36.0" height="82.7" fill="#e8a251"/><polygon points="759.6,485.5 764.6,480.5 800.6,480.5 795.6,485.5" fill="#2e2a38"/><polygon points="795.6,485.5 800.6,480.5 800.6,496.5 795.6,501.5" fill="#2e2a38"/><rect x="759.6" y="485.5" width="36.0" height="16.0" fill="#9088b5"/></g>
<g stroke="#1a1a1a" stroke-width="1.05" stroke-linejoin="round"><polygon points="557.8,449.5 562.8,444.5 598.8,444.5 593.8,449.5" fill="#7b4f26"/><polygon points="593.8,449.5 598.8,444.5 598.8,495.3 593.8,500.3" fill="#7b4f26"/><rect x="557.8" y="449.5" width="36.0" height="50.8" fill="#e8a251"/><polygon points="593.8,462.0 598.8,457.0 634.8,457.0 629.8,462.0" fill="#7c7d78"/><polygon points="629.8,462.0 634.8,457.0 634.8,495.3 629.8,500.3" fill="#7c7d78"/><rect x="593.8" y="462.0" width="36.0" height="38.3" fill="#faf9f7"/><polygon points="629.8,478.5 634.8,473.5 670.8,473.5 665.8,478.5" fill="#2e2a38"/><polygon points="665.8,478.5 670.8,473.5 670.8,495.3 665.8,500.3" fill="#2e2a38"/><rect x="629.8" y="478.5" width="36.0" height="21.8" fill="#9088b5"/></g>
<g stroke="#1a1a1a" stroke-width="1.05" stroke-linejoin="round"><polygon points="409.8,468.5 414.8,463.5 450.8,463.5 445.8,468.5" fill="#7b4f26"/><polygon points="445.8,468.5 450.8,463.5 450.8,524.5 445.8,529.5" fill="#7b4f26"/><rect x="409.8" y="468.5" width="36.0" height="61.0" fill="#e8a251"/><polygon points="445.8,524.0 450.8,519.0 486.8,519.0 481.8,524.0" fill="#7c7d78"/><polygon points="481.8,524.0 486.8,519.0 486.8,524.5 481.8,529.5" fill="#7c7d78"/><rect x="445.8" y="524.0" width="36.0" height="5.5" fill="#faf9f7"/><polygon points="481.8,491.0 486.8,486.0 522.8,486.0 517.8,491.0" fill="#2e2a38"/><polygon points="517.8,491.0 522.8,486.0 522.8,524.5 517.8,529.5" fill="#2e2a38"/><rect x="481.8" y="491.0" width="36.0" height="38.5" fill="#9088b5"/></g>
<text transform="translate(62.62,222.40) scale(1,1.056)" font-size="17.7">8%</text>
<text transform="translate(98.92,222.40) scale(1,1.056)" font-size="17.7">0%</text>
<text transform="translate(135.90,222.40) scale(1,1.056)" font-size="17.7">4%</text>
<text transform="translate(212.32,339.15) scale(1,1.056)" font-size="17.7">10%</text>
<text transform="translate(258.77,339.15) scale(1,1.056)" font-size="17.7">3%</text>
<text transform="translate(294.98,339.15) scale(1,1.056)" font-size="17.7">2%</text>
<text transform="translate(398.90,297.40) scale(1,1.056)" font-size="17.7">10%</text>
<text transform="translate(440.25,297.40) scale(1,1.056)" font-size="17.7">16%</text>
<text transform="translate(482.61,263.40) scale(1,1.056)" font-size="17.7">-2%</text>
<text transform="translate(538.82,222.75) scale(1,1.056)" font-size="17.7">10%</text>
<text transform="translate(585.20,222.75) scale(1,1.056)" font-size="17.7">7%</text>
<text transform="translate(622.16,222.75) scale(1,1.056)" font-size="17.7">1%</text>
<text transform="translate(823.80,262.15) scale(1,1.056)" font-size="17.7">10%</text>
<text transform="translate(911.66,262.15) scale(1,1.056)" font-size="17.7">1%</text>
<text transform="translate(875.21,225.35) scale(1,1.056)" font-size="17.7">-1%</text>
<text transform="translate(558.82,379.75) scale(1,1.056)" font-size="17.7">11%</text>
<text transform="translate(599.35,379.75) scale(1,1.056)" font-size="17.7">10%</text>
<text transform="translate(648.31,350.15) scale(1,1.056)" font-size="17.7">-2%</text>
<text transform="translate(752.27,409.85) scale(1,1.056)" font-size="17.7">8%</text>
<text transform="translate(788.92,409.85) scale(1,1.056)" font-size="17.7">0%</text>
<text transform="translate(825.81,409.85) scale(1,1.056)" font-size="17.7">1%</text>
<text transform="translate(684.20,520.25) scale(1,1.056)" font-size="17.7">13%</text>
<text transform="translate(771.67,520.25) scale(1,1.056)" font-size="17.7">3%</text>
<text transform="translate(730.11,488.65) scale(1,1.056)" font-size="17.7">-3%</text>
<text transform="translate(564.37,520.35) scale(1,1.056)" font-size="17.7">8%</text>
<text transform="translate(600.93,520.35) scale(1,1.056)" font-size="17.7">6%</text>
<text transform="translate(637.32,520.35) scale(1,1.056)" font-size="17.7">3%</text>
<text transform="translate(418.07,551.75) scale(1,1.056)" font-size="17.7">9%</text>
<text transform="translate(455.18,551.75) scale(1,1.056)" font-size="17.7">1%</text>
<text transform="translate(491.13,551.75) scale(1,1.056)" font-size="17.7">6%</text>
<text transform="translate(72.35,246.15) scale(1,1.009)" font-size="22.3">Pacific</text>
<text transform="translate(220.88,362.65) scale(1,1.009)" font-size="22.3">Mountain</text>
<text transform="translate(409.96,320.65) scale(1,1.009)" font-size="22.3">Northern</text>
<text transform="translate(425.74,344.90) scale(1,1.009)" font-size="22.3">Plains</text>
<text transform="translate(530.30,246.90) scale(1,1.009)" font-size="22.3">Lake States</text>
<text transform="translate(806.03,283.65) scale(1,1.009)" font-size="22.3">Northeast</text>
<text transform="translate(584.28,401.55) scale(1,1.009)" font-size="22.3">Corn</text>
<text transform="translate(588.59,425.45) scale(1,1.009)" font-size="22.3">Belt</text>
<text transform="translate(736.79,433.45) scale(1,1.009)" font-size="22.3">Appalachian</text>
<text transform="translate(687.98,542.05) scale(1,1.009)" font-size="22.3">Southeast</text>
<text transform="translate(581.22,544.55) scale(1,1.009)" font-size="22.3">Delta</text>
<text transform="translate(576.75,568.85) scale(1,1.009)" font-size="22.3">States</text>
<text transform="translate(417.55,575.40) scale(1,1.009)" font-size="22.3">Southern</text>
<text transform="translate(431.46,599.55) scale(1,1.009)" font-size="22.3">Plains</text>
<g stroke="#707070" stroke-width="0.9">
<rect x="589.2" y="639.9" width="36.3" height="21.8" fill="#e8a251"/>
<rect x="589.2" y="674.1" width="36.3" height="21.8" fill="#faf9f7"/>
<rect x="589.2" y="708.6" width="36.3" height="21.8" fill="#9088b5"/>
</g>
<text transform="translate(632.7,656.7) scale(1,0.975)" font-size="20.35">2003-08</text>
<text transform="translate(632.7,691.9) scale(1,0.975)" font-size="20.35">2009-14</text>
<text transform="translate(632.7,727.7) scale(1,0.975)" font-size="20.35">2015-16</text>
<text x="18.4" y="794.9" font-size="18">Source: USDA, Economic Research Service calculations using data from USDA, National Agricultural Statistics Service.</text>
</svg></body></html>
